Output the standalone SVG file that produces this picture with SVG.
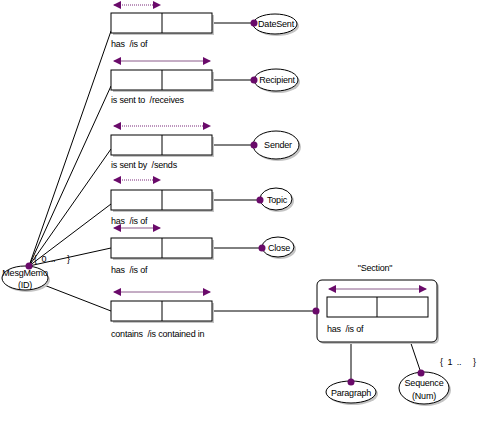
<svg xmlns="http://www.w3.org/2000/svg" width="495" height="425" viewBox="0 0 495 425" xml:space="preserve">
<defs>
<style>
text{font-family:"Liberation Sans",Arial,sans-serif;font-size:9px;fill:#000;letter-spacing:-0.2px;white-space:pre}
.box{fill:#fff;stroke:#000;stroke-width:1}
.sh{fill:#c4c4c4;stroke:none}
.ln{stroke:#000;stroke-width:1;fill:none}
.ar{stroke:#8a5a8a;stroke-width:1;fill:none}
.ard{stroke:#7a2a7a;stroke-width:1;fill:none;stroke-dasharray:1 1}
.dot{fill:#6a0a6a}
.ell{fill:#fff;stroke:#000;stroke-width:1}
</style>
<marker id="ah" viewBox="0 0 8 8" refX="7" refY="4" markerWidth="8" markerHeight="8" markerUnits="userSpaceOnUse" orient="auto-start-reverse">
<path d="M0,0 L8,4 L0,8 Z" fill="#6a0a6a"/>
</marker>
</defs>
<rect width="495" height="425" fill="#fff"/>

<g id="connectors">
<line class="ln" x1="29" y1="266" x2="111" y2="31"/>
<line class="ln" x1="29" y1="266" x2="111" y2="86"/>
<line class="ln" x1="29" y1="266" x2="111" y2="149"/>
<line class="ln" x1="29" y1="266" x2="111" y2="204"/>
<line class="ln" x1="29" y1="266" x2="111" y2="248"/>
<line class="ln" x1="44" y1="285" x2="111" y2="311"/>
<line class="ln" x1="212" y1="23" x2="254" y2="23"/>
<line class="ln" x1="212" y1="80" x2="254" y2="80"/>
<line class="ln" x1="212" y1="145" x2="254" y2="145"/>
<line class="ln" x1="212" y1="200" x2="259" y2="200"/>
<line class="ln" x1="212" y1="248" x2="262" y2="248"/>
<line class="ln" x1="212" y1="311" x2="316" y2="311"/>
<line class="ln" x1="351" y1="317" x2="351" y2="382"/>
<line class="ln" x1="402" y1="317" x2="421" y2="373"/>
</g>

<g id="MesgMemo">
<ellipse class="sh" cx="27" cy="280" rx="23" ry="12"/>
<ellipse class="ell" cx="25" cy="278" rx="23" ry="12"/>
<text x="25" y="276" text-anchor="middle">MesgMemo</text>
<text x="25" y="288" text-anchor="middle">(ID)</text>
<circle class="dot" cx="29" cy="266" r="3.5"/>
<text x="34" y="262">{  0  ..     }</text>
</g>

<g id="rel-datesent">
<line class="ard" x1="114" y1="5" x2="160" y2="5" marker-start="url(#ah)" marker-end="url(#ah)"/>
<rect class="sh" x="113" y="15" width="101" height="20"/>
<rect class="box" x="111" y="13" width="101" height="20"/>
<line class="ln" x1="162" y1="13" x2="162" y2="33"/>
<text x="111" y="47">has  /is of</text>
</g>
<g id="DateSent">
<ellipse class="sh" cx="277" cy="26" rx="22" ry="10"/>
<ellipse class="ell" cx="275" cy="24" rx="22" ry="10"/>
<text x="276" y="27" text-anchor="middle">DateSent</text>
<circle class="dot" cx="254" cy="23" r="3.5"/>
</g>

<g id="rel-recipient">
<line class="ar" x1="114" y1="61" x2="210" y2="61" marker-start="url(#ah)" marker-end="url(#ah)"/>
<rect class="sh" x="113" y="72" width="101" height="20"/>
<rect class="box" x="111" y="70" width="101" height="20"/>
<line class="ln" x1="162" y1="70" x2="162" y2="90"/>
<text x="111" y="103">is sent to  /receives</text>
</g>
<g id="Recipient">
<ellipse class="sh" cx="278" cy="82" rx="22" ry="11"/>
<ellipse class="ell" cx="276" cy="80" rx="22" ry="11"/>
<text x="277" y="83" text-anchor="middle">Recipient</text>
<circle class="dot" cx="254" cy="80" r="3.5"/>
</g>

<g id="rel-sender">
<line class="ard" x1="114" y1="126" x2="210" y2="126" marker-start="url(#ah)" marker-end="url(#ah)"/>
<rect class="sh" x="113" y="137" width="101" height="20"/>
<rect class="box" x="111" y="135" width="101" height="20"/>
<line class="ln" x1="162" y1="135" x2="162" y2="155"/>
<text x="111" y="168">is sent by  /sends</text>
</g>
<g id="Sender">
<ellipse class="sh" cx="278" cy="147" rx="23" ry="14"/>
<ellipse class="ell" cx="276" cy="145" rx="23" ry="14"/>
<text x="278" y="148" text-anchor="middle">Sender</text>
<circle class="dot" cx="254" cy="145" r="3.5"/>
</g>

<g id="rel-topic">
<line class="ard" x1="114" y1="180" x2="160" y2="180" marker-start="url(#ah)" marker-end="url(#ah)"/>
<rect class="sh" x="113" y="192" width="101" height="20"/>
<rect class="box" x="111" y="190" width="101" height="20"/>
<line class="ln" x1="162" y1="190" x2="162" y2="210"/>
<text x="111" y="224">has  /is of</text>
</g>
<g id="Topic">
<ellipse class="sh" cx="278" cy="201" rx="16" ry="11"/>
<ellipse class="ell" cx="276" cy="199" rx="16" ry="11"/>
<text x="277" y="203" text-anchor="middle">Topic</text>
<circle class="dot" cx="260" cy="200" r="3.5"/>
</g>

<g id="rel-close">
<line class="ar" x1="114" y1="228" x2="160" y2="228" marker-start="url(#ah)" marker-end="url(#ah)"/>
<rect class="sh" x="113" y="240" width="101" height="20"/>
<rect class="box" x="111" y="238" width="101" height="20"/>
<line class="ln" x1="162" y1="238" x2="162" y2="258"/>
<text x="111" y="273">has  /is of</text>
</g>
<g id="Close">
<ellipse class="sh" cx="280" cy="249" rx="16" ry="10"/>
<ellipse class="ell" cx="278" cy="247" rx="16" ry="10"/>
<text x="279" y="251" text-anchor="middle">Close</text>
<circle class="dot" cx="262" cy="248" r="3.5"/>
</g>

<g id="rel-contains">
<line class="ar" x1="114" y1="292" x2="210" y2="292" marker-start="url(#ah)" marker-end="url(#ah)"/>
<rect class="sh" x="113" y="303" width="101" height="20"/>
<rect class="box" x="111" y="301" width="101" height="20"/>
<line class="ln" x1="162" y1="301" x2="162" y2="321"/>
<text x="111" y="337">contains  /is contained in</text>
</g>

<g id="Section">
<text x="375" y="271" text-anchor="middle">"Section"</text>
<rect class="sh" x="319" y="282" width="120" height="62" rx="5"/>
<rect class="box" x="317" y="280" width="120" height="62" rx="5"/>
<line class="ar" x1="329" y1="289" x2="426" y2="289" marker-start="url(#ah)" marker-end="url(#ah)"/>
<rect class="box" x="327" y="297" width="101" height="20"/>
<line class="ln" x1="377" y1="297" x2="377" y2="317"/>
<text x="327" y="332">has  /is of</text>
<circle class="dot" cx="316" cy="311" r="3.5"/>
</g>

<g id="Paragraph">
<ellipse class="sh" cx="353" cy="394" rx="25" ry="11"/>
<ellipse class="ell" cx="351" cy="392" rx="25" ry="11"/>
<text x="351" y="396" text-anchor="middle">Paragraph</text>
<circle class="dot" cx="351" cy="382" r="3.5"/>
</g>

<g id="Sequence">
<ellipse class="sh" cx="426" cy="390" rx="25" ry="16"/>
<ellipse class="ell" cx="424" cy="388" rx="25" ry="16"/>
<text x="424" y="386" text-anchor="middle">Sequence</text>
<text x="424" y="399" text-anchor="middle">(Num)</text>
<circle class="dot" cx="421" cy="373" r="3.5"/>
<text x="440" y="365">{  1  ..     }</text>
</g>
</svg>
